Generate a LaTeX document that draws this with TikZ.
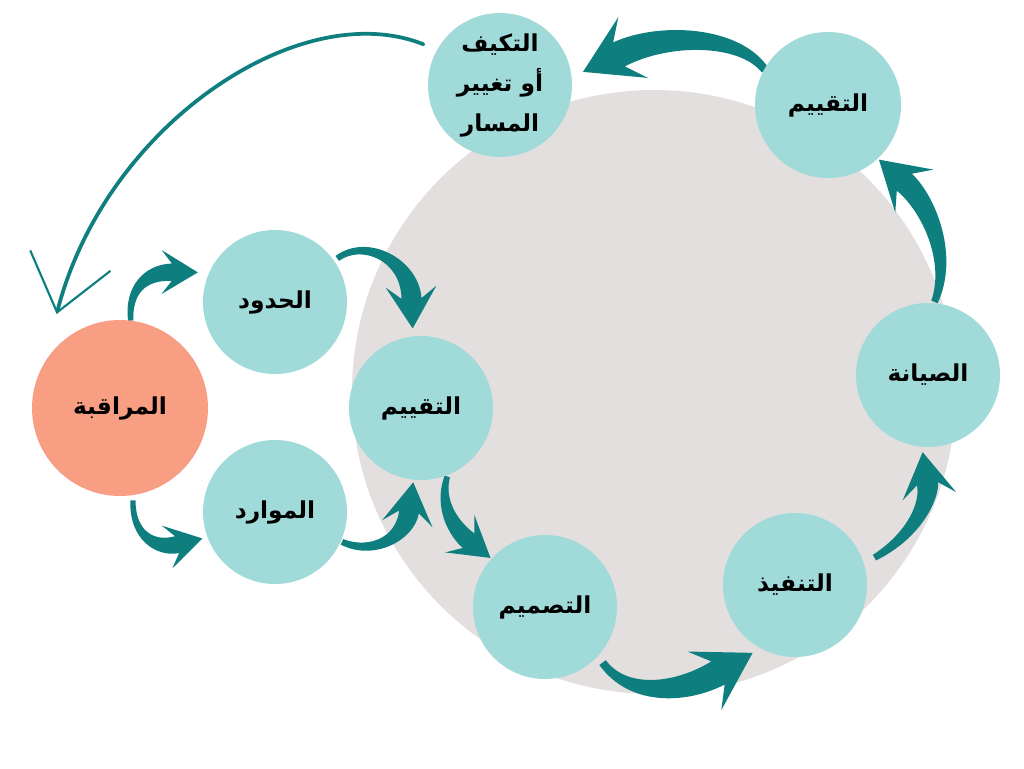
\documentclass[tikz,border=0pt]{standalone}
\usepackage{fontspec}
\usetikzlibrary{calc,arrows.meta}
\newfontfamily\arabicfont[Script=Arabic]{DejaVu Sans}
\TeXXeTstate=1
\definecolor{tealL}{HTML}{A0DAD9}
\definecolor{tealD}{HTML}{0E7F7E}
\definecolor{salmonc}{HTML}{F89E83}
\definecolor{greyc}{HTML}{E3DFDF}
\pgfdeclarelayer{bg}
\pgfsetlayers{bg,main}
% tapered swoosh arrow: #1 size factor, #2 start, #3 control 1, #4 control 2, #5 tip
\newcommand{\tarr}[5]{%
  \pgfmathsetlengthmacro\tHL{#1*30pt}%
  \pgfmathsetlengthmacro\tHW{#1*28pt}%
  \pgfmathsetlengthmacro\tWE{#1*10pt}%
  \pgfmathsetlengthmacro\tWC{#1*9pt}%
  \pgfmathsetlengthmacro\tWB{#1*7pt}%
  \pgfmathsetlengthmacro\tWA{#1*3pt}%
  \path (#2) coordinate (aS) (#3) coordinate (aC1) (#4) coordinate (aC2) (#5) coordinate (aT);
  \path ($(aT)!\tHL!(aC2)$) coordinate (aE);
  \fill[swoosh] ($(aS)!\tWA!-90:(aC1)$) .. controls ($(aC1)!\tWB!-90:(aC2)$) and ($(aC2)!\tWC!-90:(aE)$) .. ($(aE)!\tWE!90:(aC2)$)
    -- ($(aE)!\tHW!65:(aC2)$) -- (aT) -- ($(aE)!\tHW!-65:(aC2)$) -- ($(aE)!\tWE!-90:(aC2)$)
    .. controls ($(aC2)!\tWC!90:(aE)$) and ($(aC1)!\tWB!90:(aC2)$) .. ($(aS)!\tWA!90:(aC1)$) -- cycle;
}
\begin{document}
\begin{tikzpicture}[x=0.75pt,y=-0.75pt,
  circ/.style={circle, fill=tealL, inner sep=0pt, outer sep=0pt, minimum size=108pt, align=center,
    text=black, font=\arabicfont\bfseries\fontsize{17.5}{30}\selectfont},
  bigcirc/.style={circ, fill=salmonc, minimum size=132pt},
  swoosh/.style={fill=tealD},
  thinarrow/.style={draw=tealD, line width=2.8pt, line cap=round,
    -{Straight Barb[length=40pt, width=62pt, line width=1.6pt]}}]
\useasboundingbox (0,0) rectangle (1024,768);

\node[circ] (adapt) at (500,85) {\beginR التكيف\endR\\\beginR أو تغيير\endR\\\beginR المسار\endR};
\node[circ, minimum size=109.5pt] (evalTop) at (828,105) {\beginR التقييم\endR};
\node[circ] (maint) at (928,375) {\beginR الصيانة\endR};
\node[circ] (impl) at (795,585) {\beginR التنفيذ\endR};
\node[circ] (design) at (545,607) {\beginR التصميم\endR};
\node[circ] (evalMid) at (421,408) {\beginR التقييم\endR};
\node[circ] (bounds) at (275,302) {\beginR الحدود\endR};
\node[circ] (resources) at (275,512) {\beginR الموارد\endR};
\node[bigcirc] (watch) at (120,408) {\beginR المراقبة\endR};

\begin{pgfonlayer}{bg}
\fill[white] (0,0) rectangle (1024,768);
\fill[greyc] (654,392) circle[radius=302];
\tarr{1}{$(evalTop.center)!54pt!(evalTop.151)$}{740,35}{665,32}{$(adapt.center)!63pt!(adapt.9)$}
\tarr{0.85}{$(maint.center)!55pt!(maint.85)$}{952,260}{930,205}{$(evalTop.center)!56pt!(evalTop.-47)$}
\tarr{0.8}{$(impl.center)!63pt!(impl.19)$}{915,535}{930,500}{$(maint.center)!58pt!(maint.-94)$}
\tarr{1}{$(design.center)!60pt!(design.-44)$}{630,700}{685,692}{$(impl.center)!60pt!(impl.-122)$}
\tarr{0.7}{$(evalMid.center)!55pt!(evalMid.-69)$}{438,505}{455,530}{$(design.center)!55pt!(design.138)$}
\tarr{0.75}{$(bounds.center)!57pt!(bounds.35)$}{365,238}{410,260}{$(evalMid.center)!60pt!(evalMid.96)$}
\tarr{0.75}{$(resources.center)!55pt!(resources.-24)$}{370,555}{405,540}{$(evalMid.center)!56pt!(evalMid.-96)$}
\tarr{0.65}{$(watch.center)!66pt!(watch.83)$}{128,290}{145,272}{$(bounds.center)!62pt!(bounds.159)$}
\tarr{0.65}{$(watch.center)!70pt!(watch.-82)$}{132,535}{155,550}{$(resources.center)!58pt!(resources.200)$}
\draw[thinarrow] ($(adapt.center)!65pt!(adapt.152)$) .. controls (300,-5) and (105,125) .. ($(watch.center)!85pt!(watch.124)$);
\end{pgfonlayer}
\end{tikzpicture}
\end{document}
